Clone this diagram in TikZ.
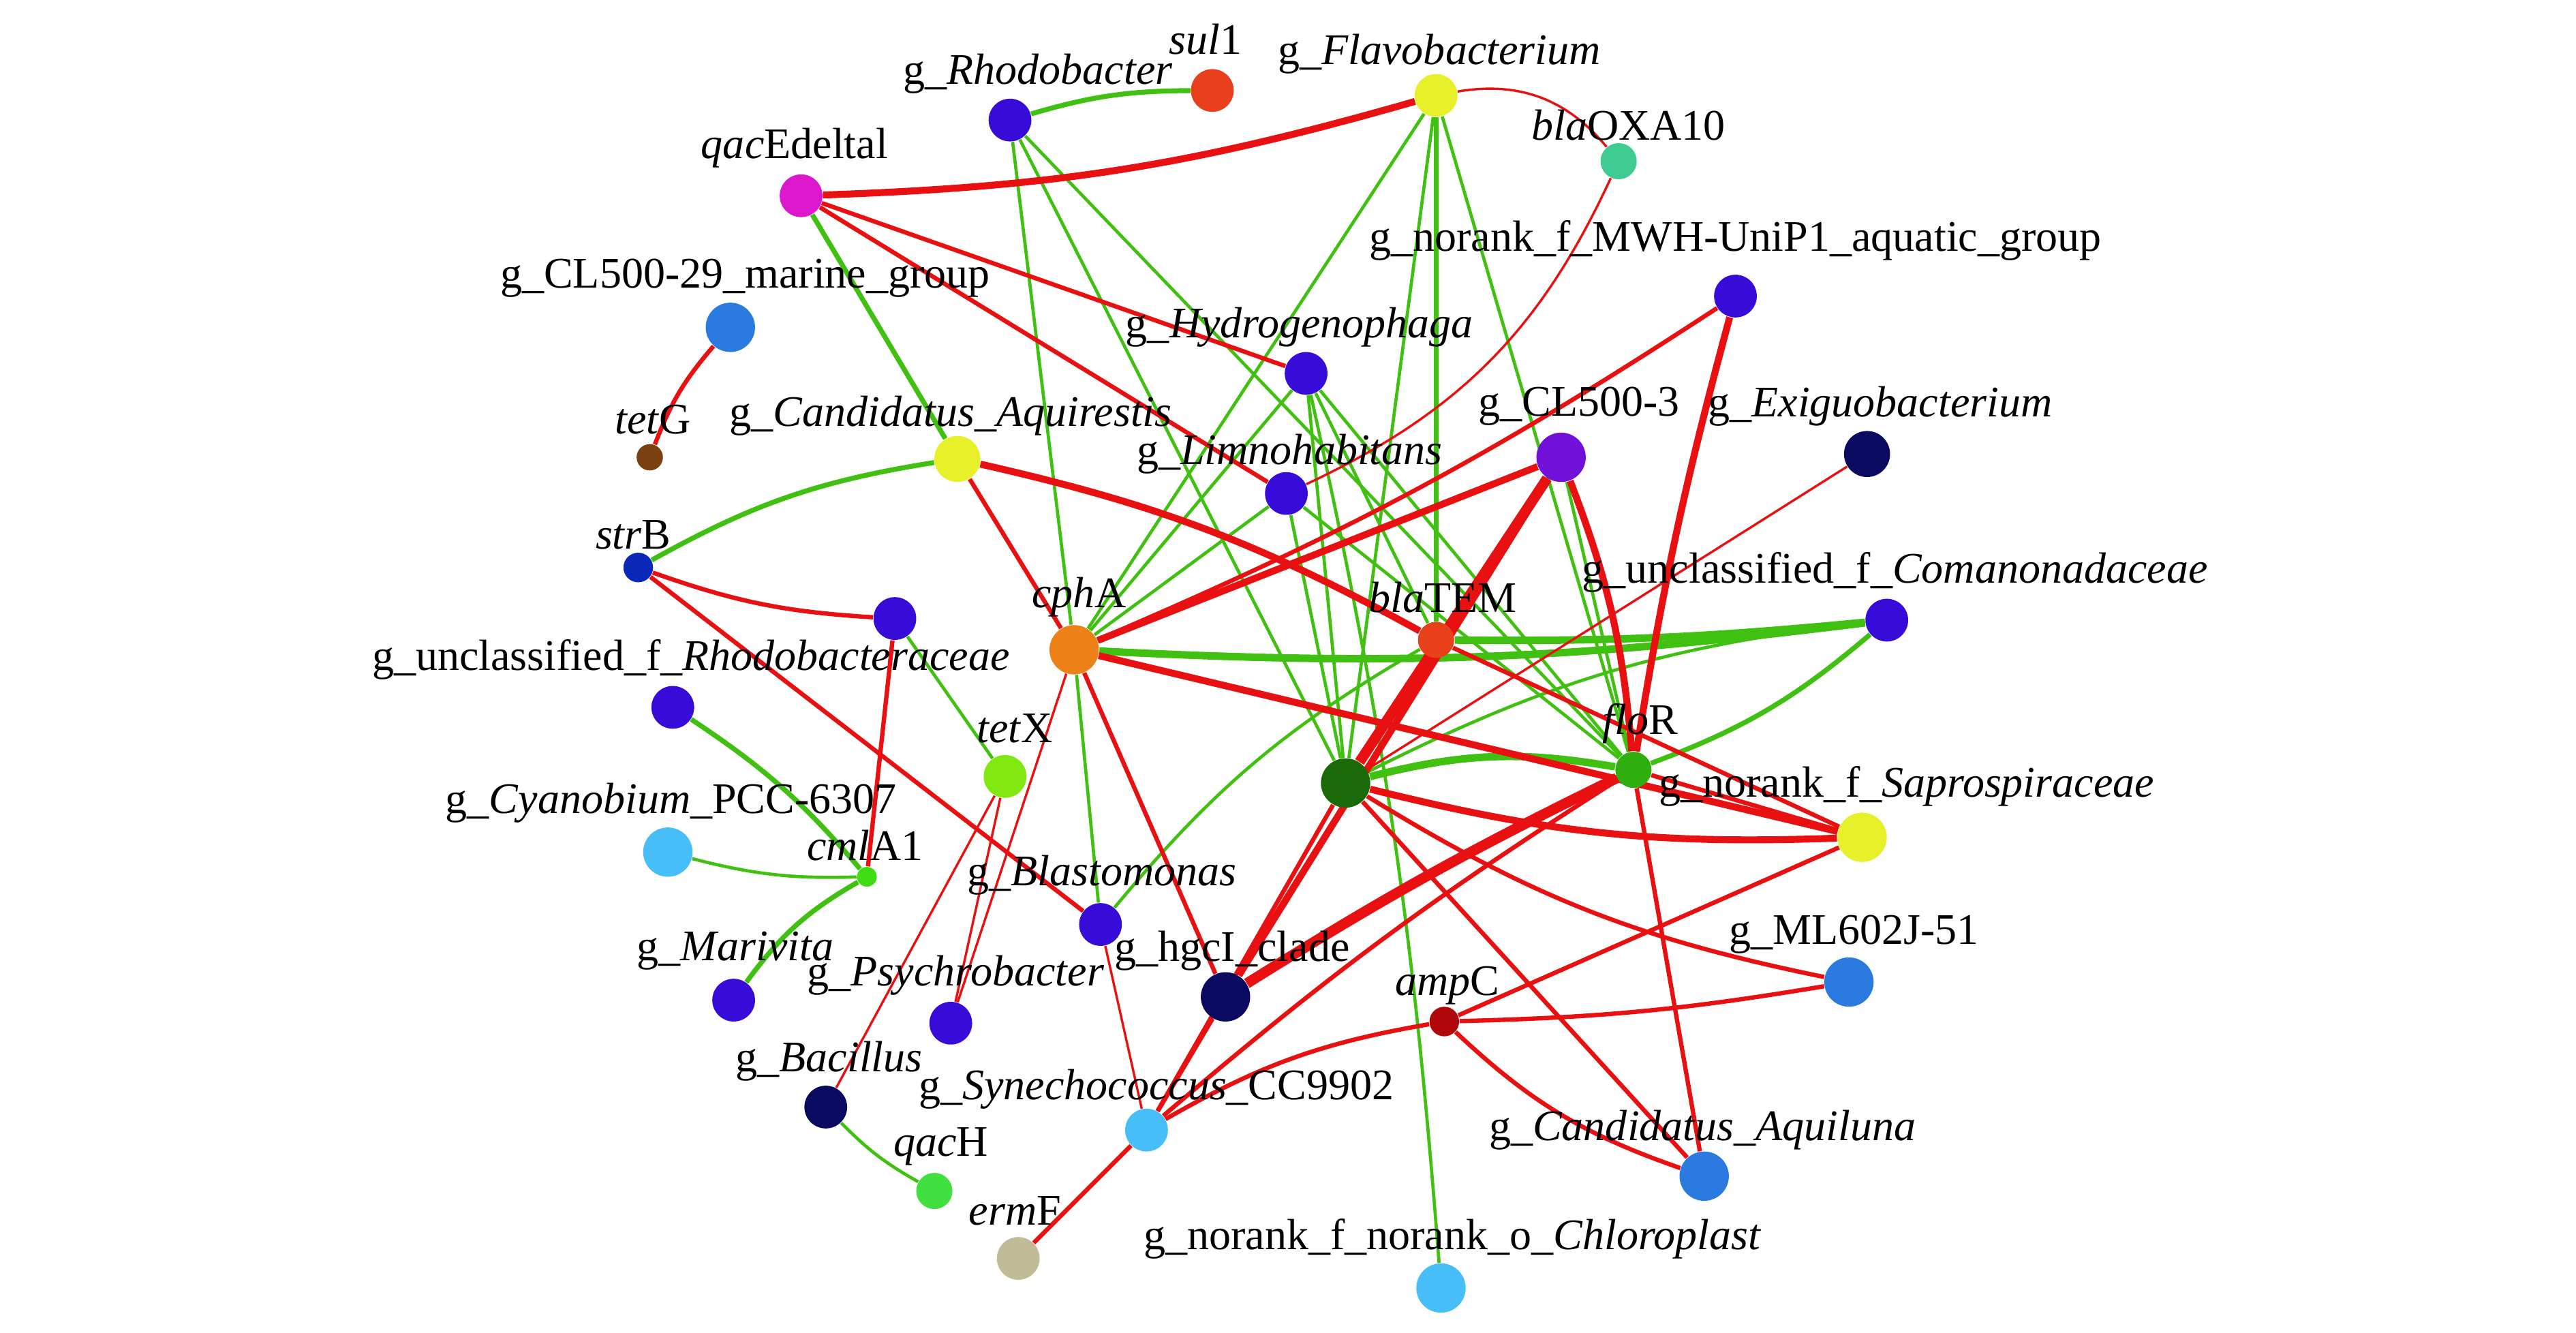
\documentclass[tikz,border=0pt]{standalone}
\usepackage{fontspec}
\setmainfont{Liberation Serif}
\usetikzlibrary{backgrounds}
\begin{document}
\begin{tikzpicture}[x=0.02cm,y=-0.02cm,
  nd/.style={circle,inner sep=0pt,minimum size=#1*0.04cm},
  nd/.default=13,
  lb/.style={inner sep=0pt,font=\fontsize{15.1}{17}\selectfont},
  rr/.style={draw={rgb,255:red,232;green,16;blue,16},line width=#1},
  gg/.style={draw={rgb,255:red,64;green,192;blue,16},line width=#1},
  r1/.style={rr=0.8pt}, r2/.style={rr=1.5pt}, r3/.style={rr=2.4pt}, r4/.style={rr=3.6pt},
  g1/.style={gg=1.1pt}, g2/.style={gg=1.7pt}, g3/.style={gg=2.6pt}
]
\useasboundingbox (0,0) rectangle (1566,810);
\definecolor{pur}{RGB}{56,12,216}
\definecolor{navy}{RGB}{10,10,96}
\definecolor{ylw}{RGB}{232,240,42}
\definecolor{lblue}{RGB}{72,190,248}
\definecolor{mblue}{RGB}{42,122,224}

% nodes
\node[nd,fill=pur] (R) at (614,73) {};
\node[nd,fill={rgb,255:red,232;green,64;blue,28}] (sul) at (737,55) {};
\node[nd,fill=ylw] (F) at (873,58) {};
\node[nd=11,fill={rgb,255:red,64;green,204;blue,144}] (OXA) at (984,98) {};
\node[nd,fill={rgb,255:red,221;green,24;blue,204}] (Q) at (487,119) {};
\node[nd=15,fill=mblue] (M29) at (444,199) {};
\node[nd=8,fill={rgb,255:red,122;green,64;blue,16}] (tetG) at (395,278) {};
\node[nd,fill=pur] (MWH) at (1055,180) {};
\node[nd,fill=pur] (H) at (794,227) {};
\node[nd=15,fill={rgb,255:red,112;green,16;blue,216}] (C3) at (949,278) {};
\node[nd=14,fill=navy] (Ex) at (1135,276) {};
\node[nd=14,fill=ylw] (CA) at (582,279) {};
\node[nd,fill=pur] (L) at (782,300) {};
\node[nd=9,fill={rgb,255:red,10;green,40;blue,184}] (strB) at (388,345) {};
\node[nd,fill=pur] (U) at (544,376) {};
\node[nd=15,fill={rgb,255:red,238;green,128;blue,24}] (cph) at (653,395) {};
\node[nd=11,fill={rgb,255:red,232;green,64;blue,24}] (TEM) at (873,389) {};
\node[nd,fill=pur] (Com) at (1147,377) {};
\node[nd,fill=pur] (Rba) at (409,430) {};
\node[nd=15,fill={rgb,255:red,26;green,106;blue,10}] (G) at (818,476) {};
\node[nd=11,fill={rgb,255:red,48;green,176;blue,16}] (floR) at (993,468) {};
\node[nd,fill={rgb,255:red,128;green,232;blue,16}] (tetX) at (611,472) {};
\node[nd=15,fill=ylw] (S) at (1132,509) {};
\node[nd=15,fill=lblue] (Cy) at (406,518) {};
\node[nd=6,fill={rgb,255:red,64;green,221;blue,16}] (cml) at (527,533) {};
\node[nd,fill=pur] (B) at (669,562) {};
\node[nd,fill=pur] (Mar) at (446,608) {};
\node[nd,fill=pur] (P) at (578,622) {};
\node[nd=15,fill=navy] (hgc) at (745,606) {};
\node[nd=15,fill=mblue] (ML) at (1124,597) {};
\node[nd=9,fill={rgb,255:red,176;green,8;blue,10}] (amp) at (878,621) {};
\node[nd,fill=navy] (Bac) at (502,673) {};
\node[nd,fill=lblue] (Sy) at (697,687) {};
\node[nd=15,fill=mblue] (Aq) at (1036,715) {};
\node[nd=11,fill={rgb,255:red,64;green,224;blue,64}] (qacH) at (568,724) {};
\node[nd,fill={rgb,255:red,192;green,188;blue,152}] (erm) at (619,765) {};
\node[nd=15,fill=lblue] (Chl) at (876,783) {};

\begin{scope}[on background layer]
% green edges
\draw[g2] (R) to[bend left=8] (sul);
\draw[g1] (R) -- (cph);
\draw[g1] (R) -- (G);
\draw[g1] (R) -- (floR);
\draw[g1] (F) -- (cph);
\draw[g1] (F) -- (G);
\draw[g2] (F) -- (TEM);
\draw[g1] (F) -- (floR);
\draw[g1] (H) -- (cph);
\draw[g1] (H) -- (G);
\draw[g1] (H) -- (TEM);
\draw[g1] (H) -- (floR);
\draw[g1] (H) to[bend left=4] (Chl);
\draw[g1] (L) -- (cph);
\draw[g1] (L) -- (G);
\draw[g1] (L) -- (floR);
\draw[g1] (C3) -- (floR);
\draw[g2] (Q) -- (CA);
\draw[g2] (strB) to[bend left=10] (CA);
\draw[g1] (U) -- (tetX);
\draw[g2] (Rba) to[bend left=8] (cml);
\draw[g1] (Cy) to[bend right=8] (cml);
\draw[g2] (Mar) to[bend left=12] (cml);
\draw[g1] (Bac) to[bend right=8] (qacH);
\draw[g1] (cph) -- (B);
\draw[g3] (cph) to[bend right=5] (Com);
\draw[g3] (TEM) to[bend left=-3] (Com);
\draw[g3] (G) to[bend left=12] (floR);
\draw[g2] (floR) to[bend right=10] (Com);
\draw[g1] (G) to[bend left=10] (Com);
\draw[g1] (B) to[bend left=10] (TEM);
% red edges
\draw[r3] (Q) to[bend right=7] (F);
\draw[r1] (F) to[bend left=30] (OXA);
\draw[r1] (OXA) to[bend left=20] (L);
\draw[r2] (Q) -- (H);
\draw[r2] (Q) -- (L);
\draw[r2] (M29) to[bend right=10] (tetG);
\draw[r3] (CA) to[bend left=8] (TEM);
\draw[r2] (CA) -- (cph);
\draw[r3] (cph) -- (C3);
\draw[r2] (cph) to[bend right=5] (MWH);
\draw[r3] (cph) -- (S);
\draw[r1] (cph) -- (P);
\draw[r2] (cph) -- (hgc);
\draw[r3] (MWH) to[bend right=3] (floR);
\draw[r4] (C3) -- (G);
\draw[r3] (C3) -- (hgc);
\draw[r3] (C3) to[bend left=8] (floR);
\draw[r1] (Ex) -- (G);
\draw[r2] (TEM) -- (S);
\draw[r3] (G) to[bend right=8] (S);
\draw[r2] (G) to[bend right=10] (ML);
\draw[r2] (G) -- (Aq);
\draw[r2] (G) -- (Sy);
\draw[r2] (floR) -- (S);
\draw[r4] (floR) to[bend right=3] (hgc);
\draw[r2] (floR) to[bend right=4] (Sy);
\draw[r2] (floR) -- (Aq);
\draw[r2] (amp) to[bend right=10] (Sy);
\draw[r2] (amp) -- (S);
\draw[r2] (amp) to[bend right=4] (ML);
\draw[r2] (amp) to[bend right=12] (Aq);
\draw[r2] (strB) to[bend right=8] (U);
\draw[r2] (strB) -- (B);
\draw[r2] (U) -- (cml);
\draw[r1] (tetX) -- (Bac);
\draw[r1] (tetX) -- (P);
\draw[r1] (B) -- (Sy);
\draw[r2] (erm) -- (Sy);
\draw[r2] (hgc) -- (Sy);
\end{scope}

% labels
\node[lb] (lR) at (631,45) {g\_\textit{Rhodobacter}};
\node[lb] (lsul) at (733,24) {\textit{sul}1};
\node[lb] (lF) at (875,33) {g\_\textit{Flavobacterium}};
\node[lb] (lOXA) at (990,76) {\textit{bla}OXA10};
\node[lb] (lQ) at (483,90) {\textit{qac}Edeltal};
\node[lb] (lM29) at (453,169) {g\_CL500-29\_marine\_group};
\node[lb] (ltetG) at (397,255) {\textit{tet}G};
\node[lb] (lMWH) at (1055,146) {g\_norank\_f\_MWH-UniP1\_aquatic\_group};
\node[lb] (lH) at (790,199) {g\_\textit{Hydrogenophaga}};
\node[lb] (lC3) at (960,247) {g\_CL500-3};
\node[lb] (lEx) at (1143,247) {g\_\textit{Exiguobacterium}};
\node[lb] (lCA) at (578,253) {g\_\textit{Candidatus\_Aquirestis}};
\node[lb] (lL) at (784,276) {g\_\textit{Limnohabitans}};
\node[lb] (lstrB) at (385,325) {\textit{str}B};
\node[lb] (lcph) at (656,363) {\textit{cph}A};
\node[lb] (lTEM) at (877,363) {\textit{bla}TEM};
\node[lb] (lCom) at (1152,348) {g\_unclassified\_f\_\textit{Comanonadaceae}};
\node[lb] (lRba) at (420,401) {g\_unclassified\_f\_\textit{Rhodobacteraceae}};
\node[lb] (ltetX) at (617,443) {\textit{tet}X};
\node[lb] (lfloR) at (997,440) {\textit{flo}R};
\node[lb] (lS) at (1159,478) {g\_norank\_f\_\textit{Saprospiraceae}};
\node[lb] (lCy) at (408,488) {g\_\textit{Cyanobium}\_PCC-6307};
\node[lb] (lcml) at (526,514) {\textit{cml}A1};
\node[lb] (lB) at (670,532) {g\_\textit{Blastomonas}};
\node[lb] (lMar) at (447,578) {g\_\textit{Marivita}};
\node[lb] (lP) at (581,593) {g\_\textit{Psychrobacter}};
\node[lb] (lhgc) at (749,578) {g\_hgcI\_clade};
\node[lb] (lML) at (1127,568) {g\_ML602J-51};
\node[lb] (lamp) at (880,599) {\textit{amp}C};
\node[lb] (lBac) at (504,645) {g\_\textit{Bacillus}};
\node[lb] (lSy) at (703,662) {g\_\textit{Synechococcus}\_CC9902};
\node[lb] (lqacH) at (572,697) {\textit{qac}H};
\node[lb] (lAq) at (1035,687) {g\_\textit{Candidatus\_Aquiluna}};
\node[lb] (lerm) at (617,736) {\textit{erm}F};
\node[lb] (lChl) at (883,753) {g\_norank\_f\_norank\_o\_\textit{Chloroplast}};
\end{tikzpicture}
\end{document}
